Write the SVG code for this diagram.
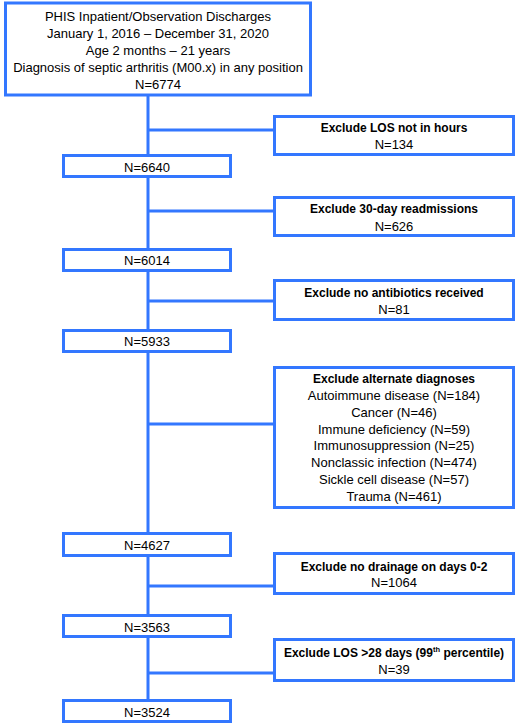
<svg xmlns="http://www.w3.org/2000/svg" width="520" height="727" viewBox="0 0 520 727">
<style>
.box{fill:#fff;stroke:#3377ff;stroke-width:3}
.ln{stroke:#3377ff;stroke-width:3;fill:none}
text{font-family:"Liberation Sans",Arial,sans-serif;font-size:13px;fill:#000;text-anchor:middle}
.b{font-weight:bold;font-size:12px}
</style>
<rect width="520" height="727" fill="#fff"/>
<g id="connectors">
<path class="ln" d="M148 96V155.5M148 177V249.5M148 271V330.5M148 352V533.5M148 555V615.5M148 637V700.5"/>
<path class="ln" d="M148 130H274.5M148 211H274.5M148 301H274.5M148 424H274.5M148 586H274.5M148 673H274.5"/>
</g>
<g id="start">
<rect class="box" x="5.5" y="3" width="305" height="92"/>
<text x="158" y="21">PHIS Inpatient/Observation Discharges</text>
<text x="158" y="38">January 1, 2016 – December 31, 2020</text>
<text x="158" y="55">Age 2 months – 21 years</text>
<text x="158" y="72">Diagnosis of septic arthritis (M00.x) in any position</text>
<text x="158" y="89">N=6774</text>
</g>
<g id="ex1">
<rect class="box" x="274.5" y="116.5" width="239" height="38"/>
<text class="b" x="394" y="132">Exclude LOS not in hours</text>
<text x="394" y="149">N=134</text>
</g>
<g id="n6640">
<rect class="box" x="63.5" y="155.5" width="167" height="21"/>
<text x="147" y="172">N=6640</text>
</g>
<g id="ex2">
<rect class="box" x="274.5" y="197.5" width="239" height="38"/>
<text class="b" x="394" y="213">Exclude 30-day readmissions</text>
<text x="394" y="231">N=626</text>
</g>
<g id="n6014">
<rect class="box" x="63.5" y="249.5" width="167" height="21"/>
<text x="147" y="265">N=6014</text>
</g>
<g id="ex3">
<rect class="box" x="274.5" y="280.5" width="239" height="39"/>
<text class="b" x="394" y="297">Exclude no antibiotics received</text>
<text x="394" y="314">N=81</text>
</g>
<g id="n5933">
<rect class="box" x="63.5" y="330.5" width="167" height="21"/>
<text x="147" y="346">N=5933</text>
</g>
<g id="ex4">
<rect class="box" x="274.5" y="367.5" width="239" height="140"/>
<text class="b" x="394" y="383">Exclude alternate diagnoses</text>
<text x="394" y="400">Autoimmune disease (N=184)</text>
<text x="394" y="417">Cancer (N=46)</text>
<text x="394" y="434">Immune deficiency (N=59)</text>
<text x="394" y="450">Immunosuppression (N=25)</text>
<text x="394" y="467">Nonclassic infection (N=474)</text>
<text x="394" y="484">Sickle cell disease (N=57)</text>
<text x="394" y="501">Trauma (N=461)</text>
</g>
<g id="n4627">
<rect class="box" x="63.5" y="533.5" width="167" height="22"/>
<text x="147" y="550">N=4627</text>
</g>
<g id="ex5">
<rect class="box" x="274.5" y="553.5" width="239" height="40"/>
<text class="b" x="394" y="571">Exclude no drainage on days 0-2</text>
<text x="394" y="587">N=1064</text>
</g>
<g id="n3563">
<rect class="box" x="63.5" y="615.5" width="167" height="21"/>
<text x="147" y="632">N=3563</text>
</g>
<g id="ex6">
<rect class="box" x="274.5" y="639.5" width="239" height="41"/>
<text class="b" x="394" y="657">Exclude LOS &gt;28 days (99<tspan font-size="7.5" dy="-5">th</tspan><tspan dy="5"> percentile)</tspan></text>
<text x="394" y="674">N=39</text>
</g>
<g id="n3524">
<rect class="box" x="63.5" y="700.5" width="167" height="21"/>
<text x="147" y="717">N=3524</text>
</g>
</svg>
